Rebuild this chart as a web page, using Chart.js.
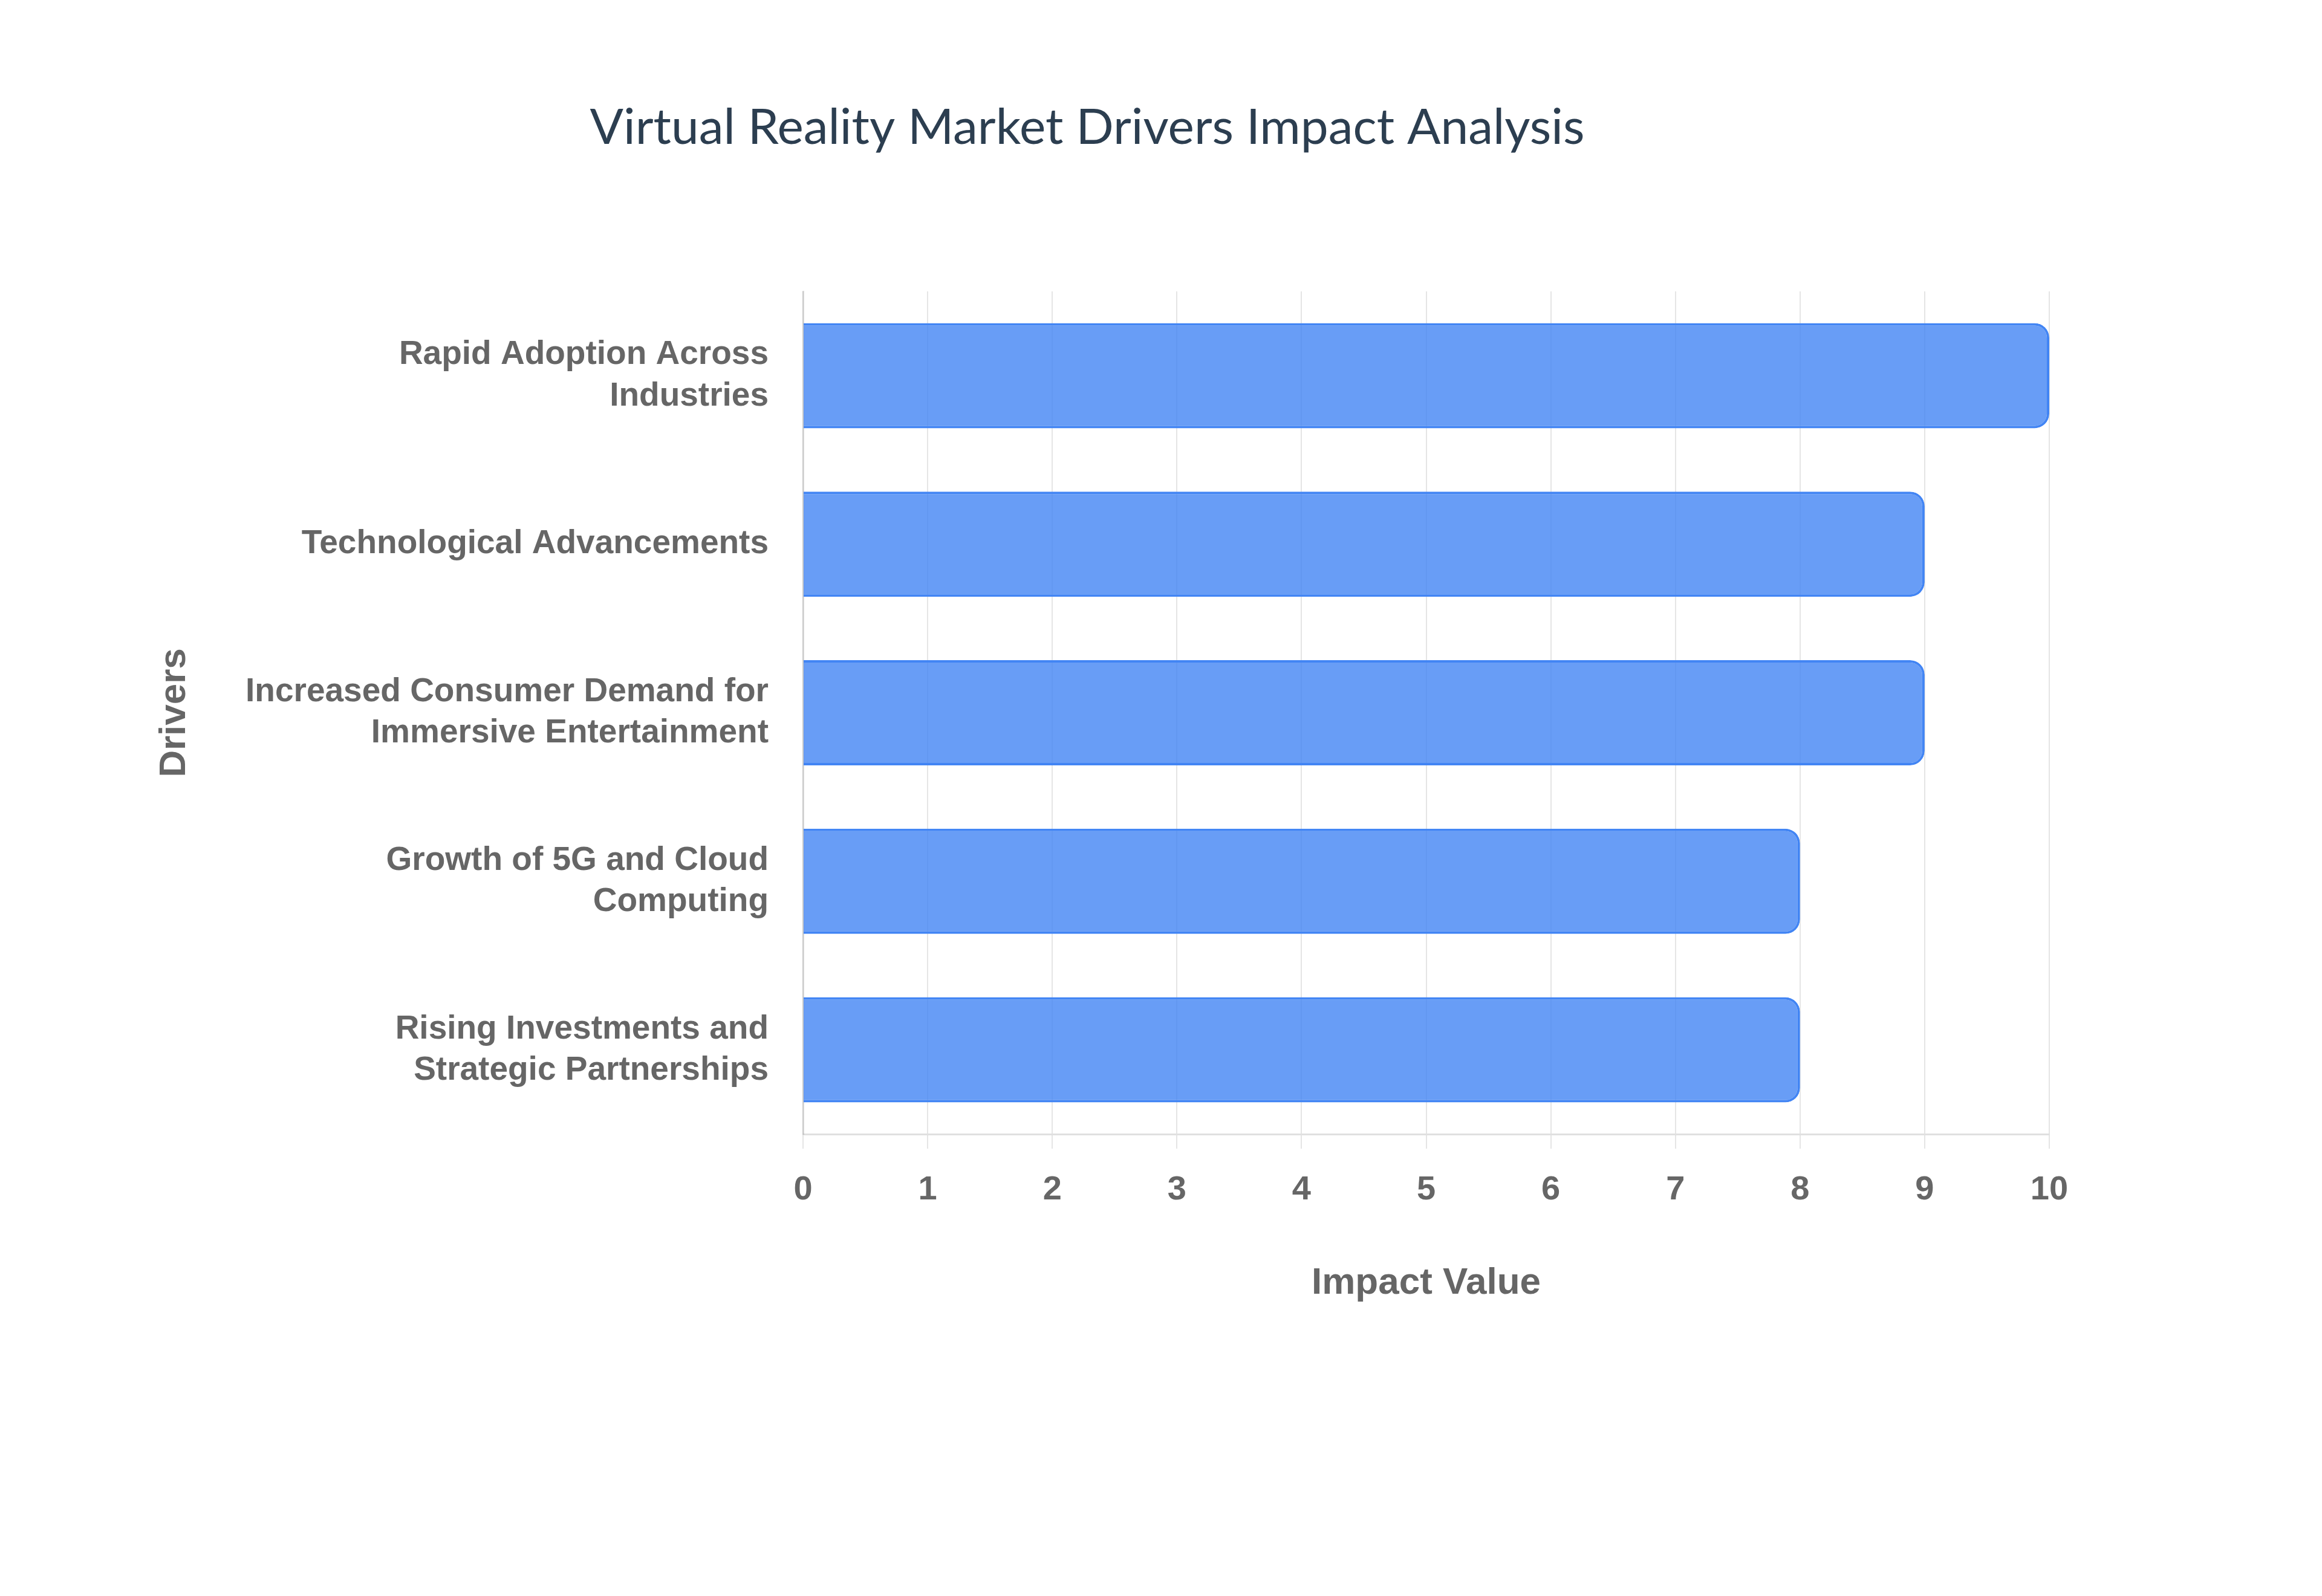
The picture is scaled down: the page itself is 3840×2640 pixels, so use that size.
<!DOCTYPE html>
<html>
<head>
<meta charset="utf-8">
<title>Virtual Reality Market Drivers Impact Analysis</title>
<script src="https://cdn.jsdelivr.net/npm/chart.js@4.4.1/dist/chart.umd.min.js"></script>
<style>
  html, body { margin: 0; padding: 0; background: #ffffff; }
  #wrap { width: 3840px; height: 2640px; position: relative; }
</style>
</head>
<body>
<div id="wrap"><canvas id="driversChart"></canvas></div>
<script>
// Chart data
const drivers = [
  ['Rapid Adoption Across', 'Industries'],
  'Technological Advancements',
  ['Increased Consumer Demand for', 'Immersive Entertainment'],
  ['Growth of 5G and Cloud', 'Computing'],
  ['Rising Investments and', 'Strategic Partnerships']
];
const impactValues = [10, 9, 9, 8, 8];
const impactMin = 0;
const impactMax = 10;
const impactStep = 1;

const labelFont = "'Helvetica Neue', Helvetica, Arial, 'Liberation Sans', sans-serif";

const ctx = document.getElementById('driversChart');

new Chart(ctx, {
  type: 'bar',
  data: {
    labels: drivers,
    datasets: [{
      label: 'Impact Value',
      data: impactValues,
      backgroundColor: 'rgba(66, 133, 244, 0.8)',
      borderColor: 'rgba(66, 133, 244, 1)',
      borderWidth: 4,
      borderRadius: 24,
      categoryPercentage: 0.8,
      barPercentage: 0.78
    }]
  },
  options: {
    indexAxis: 'y',
    responsive: true,
    maintainAspectRatio: false,
    devicePixelRatio: 1,
    animation: false,
    layout: {
      padding: { top: 0, left: 207, right: 451, bottom: 480 }
    },
    plugins: {
      legend: { display: false },
      tooltip: { enabled: false },
      title: {
        display: true,
        text: 'Virtual Reality Market Drivers Impact Analysis',
        color: '#2c3e50',
        font: { family: 'Lato', size: 82, weight: 'normal', lineHeight: 1 },
        padding: { top: 171, bottom: 229 }
      }
    },
    scales: {
      x: {
        min: impactMin,
        max: impactMax,
        ticks: {
          stepSize: impactStep,
          color: '#666666',
          padding: 35,
          font: { family: labelFont, size: 56, weight: 'bold', lineHeight: 1.2 }
        },
        grid: {
          color: 'rgba(0, 0, 0, 0.1)',
          lineWidth: 2,
          tickLength: 24
        },
        border: { color: 'rgba(0, 0, 0, 0.12)', width: 3 },
        title: {
          display: true,
          text: 'Impact Value',
          color: '#666666',
          font: { family: labelFont, size: 62, weight: 'bold', lineHeight: 1.2 },
          padding: { top: 0, bottom: 0 }
        },
        afterFit: function (scale) { scale.height = 284; }
      },
      y: {
        ticks: {
          color: '#666666',
          padding: 49,
          font: { family: labelFont, size: 55, weight: 'bold', lineHeight: 1.24 }
        },
        grid: { display: false },
        border: { color: 'rgba(0, 0, 0, 0.12)', width: 3 },
        title: {
          display: true,
          text: 'Drivers',
          color: '#666666',
          font: { family: labelFont, size: 62, weight: 'bold', lineHeight: 1.2 },
          padding: { top: 45, bottom: 0 }
        },
        afterFit: function (scale) { scale.width = 1121; }
      }
    }
  }
});
</script>
</body>
</html>
